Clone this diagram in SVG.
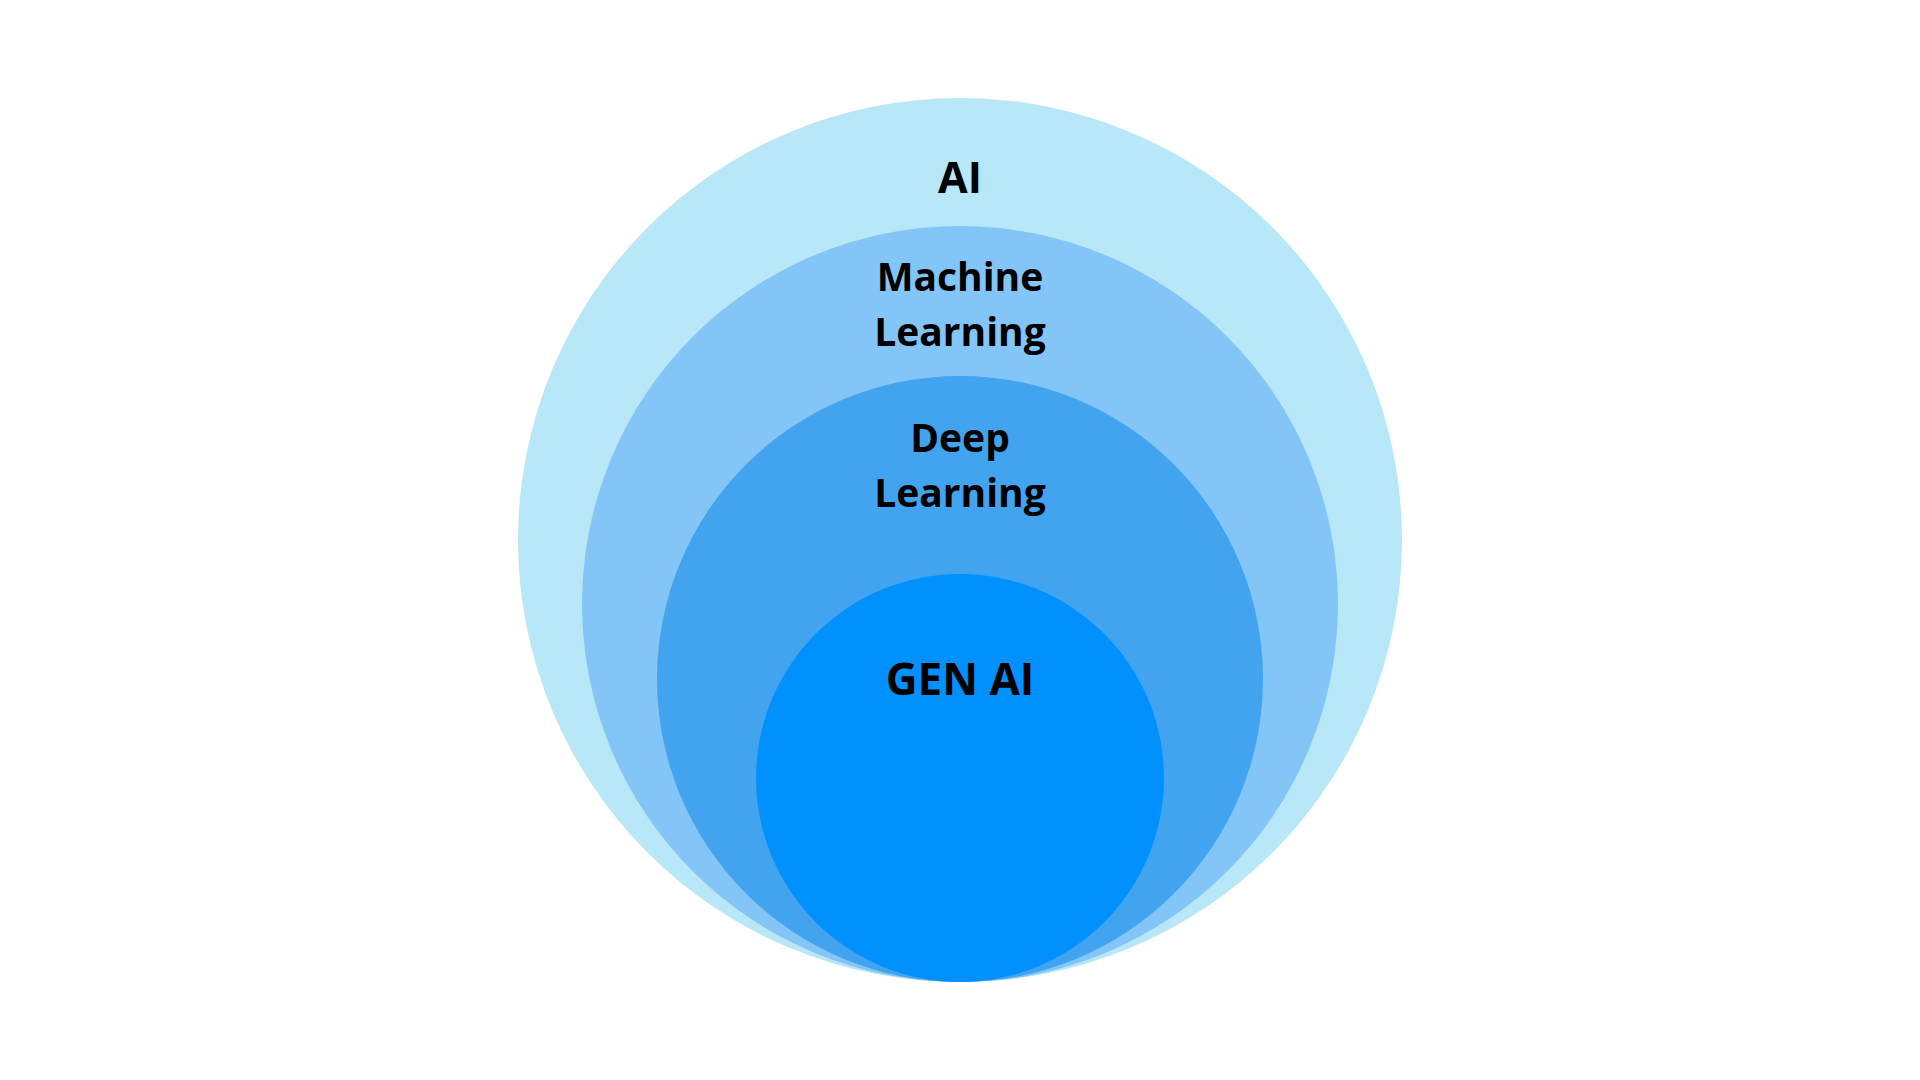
<svg xmlns="http://www.w3.org/2000/svg" width="1920" height="1080" viewBox="0 0 1920 1080">
<style>
.lbl{font-family:"Open Sans","Noto Sans","Liberation Sans",sans-serif;font-weight:700;fill:#000;text-anchor:middle}
</style>
<rect width="1920" height="1080" fill="#ffffff"/>
<g id="node-ai">
<circle cx="960" cy="540" r="442" fill="#B8E7F8"/>
<text class="lbl" x="960" y="193" font-size="43">AI</text>
</g>
<g id="node-ml">
<circle cx="960" cy="604" r="378" fill="#84C5F8"/>
<text class="lbl" x="960" y="291" font-size="39">Machine</text>
<text class="lbl" x="960" y="346" font-size="39">Learning</text>
</g>
<g id="node-dl">
<circle cx="960" cy="679" r="303" fill="#42A4EE"/>
<text class="lbl" x="960" y="452" font-size="39">Deep</text>
<text class="lbl" x="960" y="507" font-size="39">Learning</text>
</g>
<g id="node-genai">
<circle cx="960" cy="778" r="204" fill="#0091FF"/>
<text class="lbl" x="960" y="695" font-size="44">GEN AI</text>
</g>
<g id="connectors"></g>
</svg>
